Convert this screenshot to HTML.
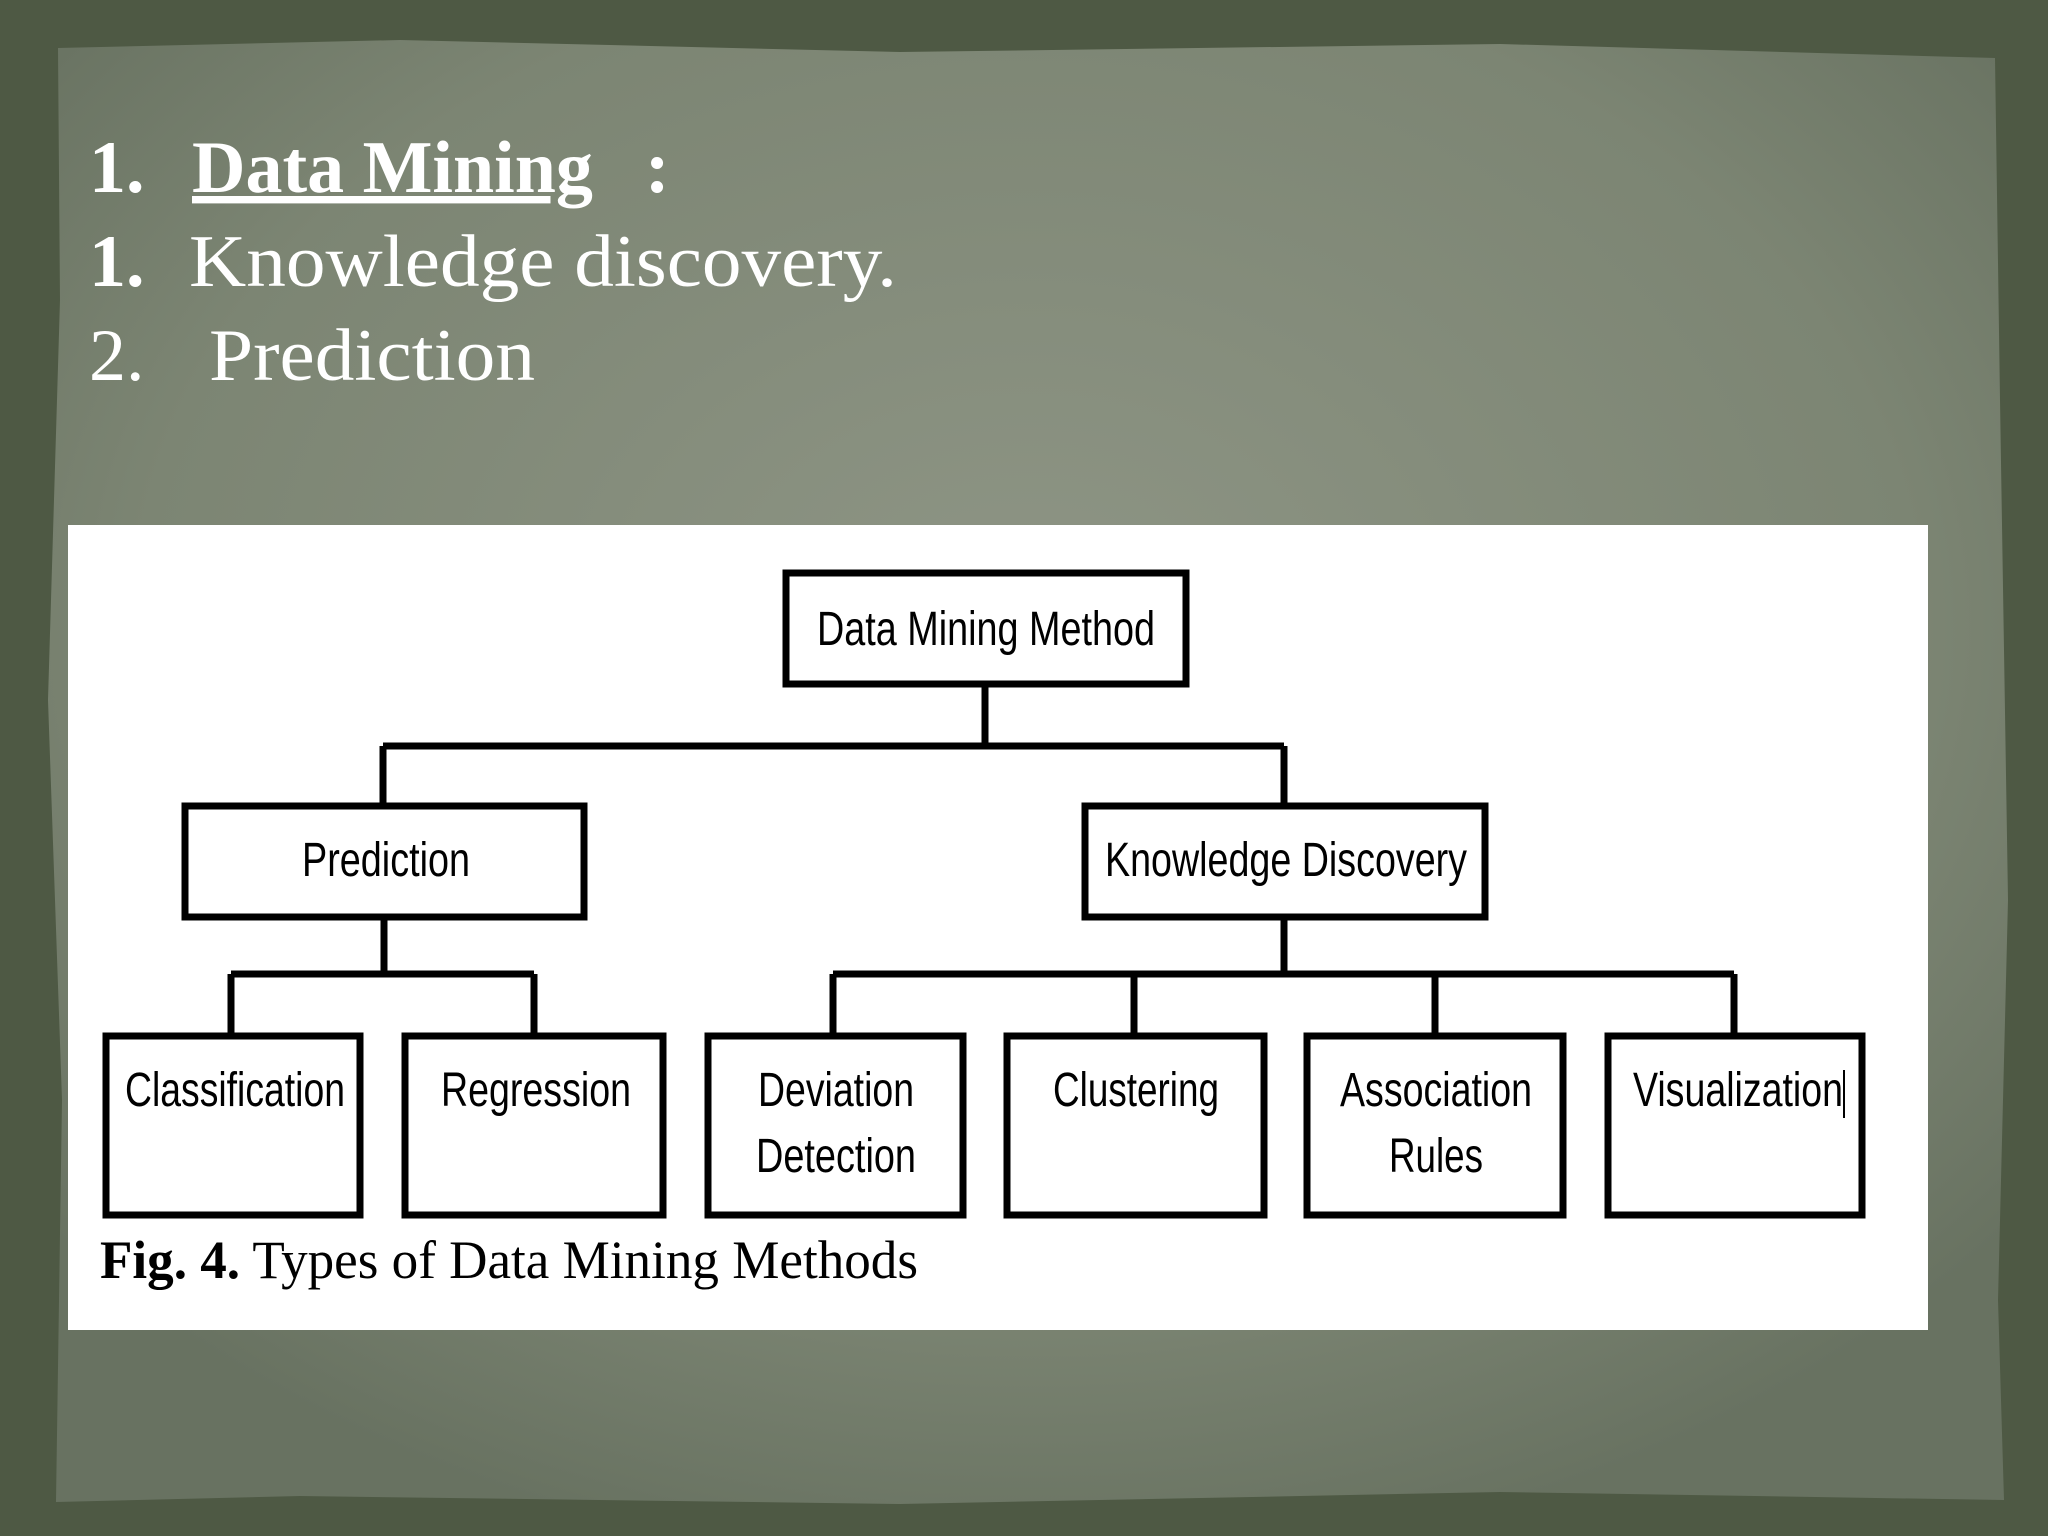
<!DOCTYPE html>
<html><head><meta charset="utf-8"><style>
html,body{margin:0;padding:0;width:2048px;height:1536px;overflow:hidden;background:#4e5944}
</style></head><body>
<svg width="2048" height="1536" viewBox="0 0 2048 1536" xmlns="http://www.w3.org/2000/svg">
<defs>
<radialGradient id="pg" cx="50%" cy="40%" r="65%">
<stop offset="0" stop-color="#8e9585"/><stop offset="0.7" stop-color="#7c8573"/><stop offset="1" stop-color="#687261"/>
</radialGradient>
</defs>
<rect width="2048" height="1536" fill="#4e5944"/>
<path d="M58,48 L400,40 L900,52 L1500,44 L1995,58 L2000,400 L2008,900 L1998,1300 L2004,1500 L1500,1492 L900,1504 L300,1496 L56,1502 L62,1100 L48,700 L60,300 Z" fill="url(#pg)"/>
<g font-family="Liberation Serif, serif" fill="#ffffff">
<text x="89" y="192" font-size="74" font-weight="bold">1.</text>
<text x="192" y="192" font-size="74" font-weight="bold" text-decoration="underline">Data Mining </text>
<text x="645" y="192" font-size="74" font-weight="bold">:</text>
<text x="89" y="286" font-size="74" font-weight="bold">1.</text>
<text x="189" y="286" font-size="74" textLength="708" lengthAdjust="spacingAndGlyphs">Knowledge discovery.</text>
<text x="89" y="380" font-size="74">2.</text>
<text x="209" y="380" font-size="74" textLength="326" lengthAdjust="spacingAndGlyphs">Prediction</text>
</g>
<rect x="68" y="525" width="1860" height="805" fill="#ffffff"/>
<g stroke="#000" stroke-width="7" fill="none">
<rect x="786" y="573" width="400" height="111"/>
<rect x="185" y="806" width="399" height="111"/>
<rect x="1085" y="806" width="400" height="111"/>
<rect x="106" y="1036" width="254" height="179"/>
<rect x="405" y="1036" width="258" height="179"/>
<rect x="708" y="1036" width="255" height="179"/>
<rect x="1007" y="1036" width="257" height="179"/>
<rect x="1307" y="1036" width="256" height="179"/>
<rect x="1608" y="1036" width="254" height="179"/>
<path d="M985,684 V746 M383,746 H1284 M383,746 V806 M1284,746 V806"/>
<path d="M384,917 V974 M231,974 H534 M231,974 V1036 M534,974 V1036"/>
<path d="M1284,917 V974 M833,974 H1734 M833,974 V1036 M1134,974 V1036 M1435,974 V1036 M1734,974 V1036"/>
</g>
<g font-family="Liberation Sans, Arial, sans-serif" font-size="48" fill="#000" text-anchor="middle">
<text x="986" y="645" textLength="338" lengthAdjust="spacingAndGlyphs">Data Mining Method</text>
<text x="386" y="876" textLength="168" lengthAdjust="spacingAndGlyphs">Prediction</text>
<text x="1286" y="876" textLength="362" lengthAdjust="spacingAndGlyphs">Knowledge Discovery</text>
<text x="235" y="1106" textLength="220" lengthAdjust="spacingAndGlyphs">Classification</text>
<text x="536" y="1106" textLength="190" lengthAdjust="spacingAndGlyphs">Regression</text>
<text x="836" y="1106" textLength="156" lengthAdjust="spacingAndGlyphs">Deviation</text>
<text x="836" y="1172" textLength="160" lengthAdjust="spacingAndGlyphs">Detection</text>
<text x="1136" y="1106" textLength="166" lengthAdjust="spacingAndGlyphs">Clustering</text>
<text x="1436" y="1106" textLength="192" lengthAdjust="spacingAndGlyphs">Association</text>
<text x="1436" y="1172" textLength="94" lengthAdjust="spacingAndGlyphs">Rules</text>
<text x="1738" y="1106" textLength="210" lengthAdjust="spacingAndGlyphs">Visualization</text>
</g>
<line x1="1844" y1="1070" x2="1844" y2="1118" stroke="#000" stroke-width="2"/>
<text x="100" y="1278" font-family="Liberation Serif, serif" font-size="54" fill="#000" textLength="818" lengthAdjust="spacingAndGlyphs"><tspan font-weight="bold">Fig. 4.</tspan> Types of Data Mining Methods</text>
</svg>
</body></html>
